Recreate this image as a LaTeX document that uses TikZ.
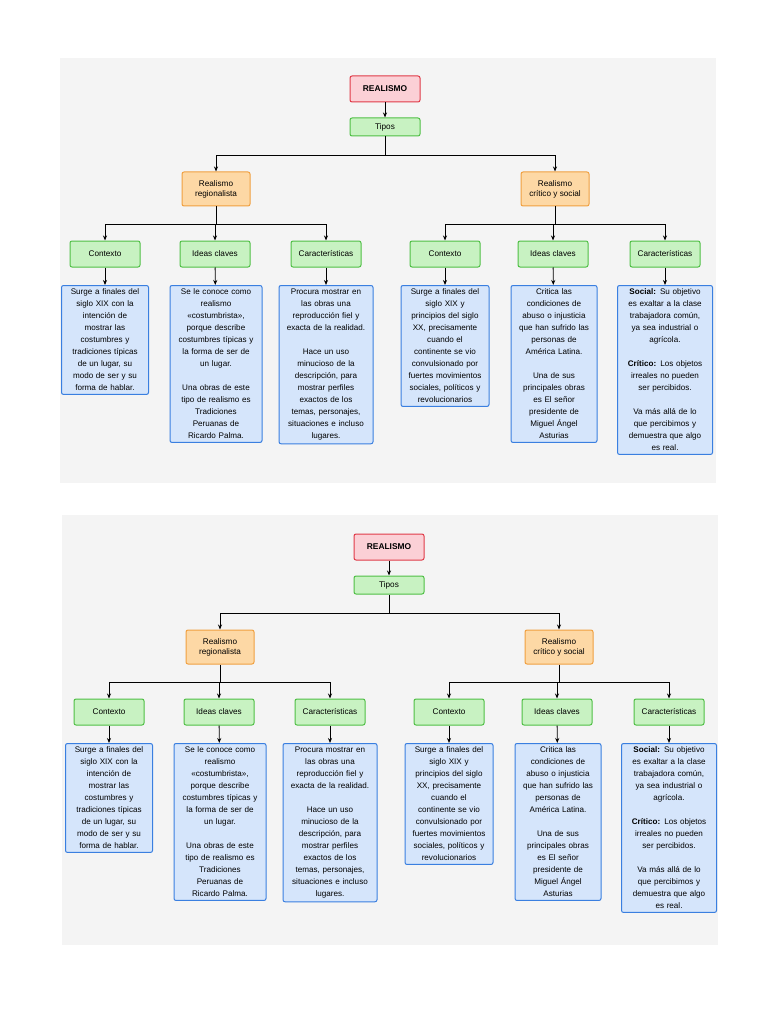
\documentclass[tikz,border=0pt]{standalone}
\usepackage{fontspec}
\setmainfont{Liberation Sans}
\usetikzlibrary{arrows.meta}
\definecolor{pan}{HTML}{F4F4F4}
\definecolor{bF}{HTML}{D5E5FB}\definecolor{bD}{HTML}{3A7FE0}
\definecolor{gF}{HTML}{C8F2C2}\definecolor{gD}{HTML}{4FBF45}
\definecolor{oF}{HTML}{FDD8A5}\definecolor{oD}{HTML}{F0A040}
\definecolor{rF}{HTML}{FBD0D6}\definecolor{rD}{HTML}{E03A48}
\tikzset{
 base/.style={draw,rounded corners=2pt,line width=1pt,align=center,font=\fontsize{8.2}{10}\selectfont},
 red/.style={base,fill=rF,draw=rD,minimum width=70pt,minimum height=26pt,font=\fontsize{8.4}{10}\selectfont\bfseries},
 tip/.style={base,fill=gF,draw=gD,minimum width=70pt,minimum height=18pt},
 org/.style={base,fill=oF,draw=oD,minimum width=68pt,minimum height=34pt},
 g3/.style={base,fill=gF,draw=gD,minimum width=70pt,minimum height=26pt},
 box/.style={base,fill=bF,draw=bD,anchor=north,inner sep=3.5pt,font=\fontsize{8.1}{12}\selectfont},
 con/.style={line width=0.8pt,-{Stealth[length=5pt,width=4pt]}},
 ln/.style={line width=0.8pt}
}
\newcommand\mydiagram[1]{%
 \node[red] (#1r) at (385,89) {REALISMO};
 \node[tip] (#1t) at (385,127) {Tipos};
 \node[org] (#1a) at (216,189) {Realismo\\regionalista};
 \node[org] (#1b) at (555,189) {Realismo\\crítico y social};
 \node[g3] (#1a1) at (105,254) {Contexto};
 \node[g3] (#1a2) at (215,254) {Ideas claves};
 \node[g3] (#1a3) at (326,254) {Características};
 \node[g3] (#1b1) at (445,254) {Contexto};
 \node[g3] (#1b2) at (553,254) {Ideas claves};
 \node[g3] (#1b3) at (665,254) {Características};
 \node[box,text width=80pt] (#1xa1) at (105,285) {Surge a finales del\\siglo XIX con la\\intención de\\mostrar las\\costumbres y\\tradiciones típicas\\de un lugar, su\\modo de ser y su\\forma de hablar.};
 \node[box,text width=85pt] (#1xa2) at (216,285) {Se le conoce como\\realismo\\«costumbrista»,\\porque describe\\costumbres típicas y\\la forma de ser de\\un lugar.\\[12pt]Una obras de este\\tipo de realismo es\\Tradiciones\\Peruanas de\\Ricardo Palma.};
 \node[box,text width=87pt] (#1xa3) at (326,285) {Procura mostrar en\\las obras una\\reproducción fiel y\\exacta de la realidad.\\[12pt]Hace un uso\\minucioso de la\\descripción, para\\mostrar perfiles\\exactos de los\\temas, personajes,\\situaciones e incluso\\lugares.};
 \node[box,text width=81pt] (#1xb1) at (445,285) {Surge a finales del\\siglo XIX y\\principios del siglo\\XX, precisamente\\cuando el\\continente se vio\\convulsionado por\\fuertes movimientos\\sociales, políticos y\\revolucionarios};
 \node[box,text width=79pt] (#1xb2) at (554,285) {Critica las\\condiciones de\\abuso o injusticia\\que han sufrido las\\personas de\\América Latina.\\[12pt]Una de sus\\principales obras\\es El señor\\presidente de\\Miguel Ángel\\Asturias};
 \node[box,text width=88pt] (#1xb3) at (665,285) {\textbf{Social:} Su objetivo\\es exaltar a la clase\\trabajadora común,\\ya sea industrial o\\agrícola.\\[12pt]\textbf{Crítico:} Los objetos\\irreales no pueden\\ser percibidos.\\[12pt]Va más allá de lo\\que percibimos y\\demuestra que algo\\es real.};
 \draw[con] (#1r) -- (#1t);
 \draw[ln] (#1t.south) -- ++(0,19) coordinate (#1h);
 \draw[con] (#1h) -| (#1a.north);
 \draw[con] (#1h) -| (#1b.north);
 \draw[ln] (#1a.south) -- ++(0,18) coordinate (#1ha);
 \draw[con] (#1ha) -| (#1a1.north);
 \draw[con] (#1ha) -| (#1a2.north);
 \draw[con] (#1ha) -| (#1a3.north);
 \draw[ln] (#1b.south) -- ++(0,18) coordinate (#1hb);
 \draw[con] (#1hb) -| (#1b1.north);
 \draw[con] (#1hb) -| (#1b2.north);
 \draw[con] (#1hb) -| (#1b3.north);
 \foreach \i in {a1,a2,a3,b1,b2,b3}{\draw[con] (#1\i) -- (#1x\i);}
}
\begin{document}
\begin{tikzpicture}[x=1pt,y=-1pt]
\useasboundingbox[fill=white] (0,0) rectangle (768,1024);
\fill[pan] (60,58) rectangle (716,483);
\fill[pan] (62,515) rectangle (718,945);
\begin{scope}
\mydiagram{T}
\end{scope}
\begin{scope}[shift={(4,458)}]
\mydiagram{B}
\end{scope}
\end{tikzpicture}
\end{document}
